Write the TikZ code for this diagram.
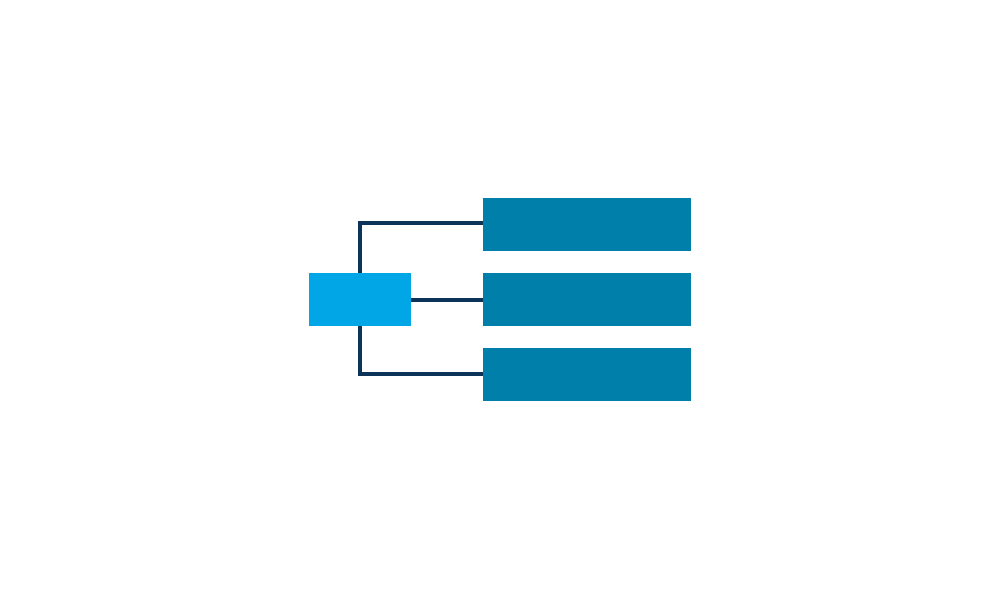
\documentclass[tikz,border=0pt]{standalone}
\usepackage{tikz}

\definecolor{hubblue}{RGB}{0,166,230}
\definecolor{itemblue}{RGB}{0,127,170}
\definecolor{linknavy}{RGB}{12,52,88}

\tikzset{
	hubbox/.style={fill=hubblue, draw=none, minimum width=1.02cm, minimum height=0.53cm, inner sep=0pt},
	itembox/.style={fill=itemblue, draw=none, minimum width=2.08cm, minimum height=0.53cm, inner sep=0pt},
	link/.style={draw=linknavy, line width=0.04cm}
}

\begin{document}
\begin{tikzpicture}
		%%%%% START %%%%%
		
		\useasboundingbox[fill=white] (0, 0) rectangle (10, 6);
		
		\coordinate (hubc) at (3.60, 3.005);
		\coordinate (topc) at (5.87, 3.755);
		\coordinate (midc) at (5.87, 3.005);
		\coordinate (botc) at (5.87, 2.255);
		
		% connectors first, boxes on top
		\draw[link] (hubc) |- ([yshift=0.015cm]topc);
		\draw[link] (hubc) |- ([yshift=0.005cm]botc);
		\draw[link] (hubc) -- (midc);
		
		\node[itembox] (top) at (topc) {};
		\node[itembox] (mid) at (midc) {};
		\node[itembox] (bot) at (botc) {};
		
		\node[hubbox] (hub) at (hubc) {};
		
		%%%%% END %%%%%
\end{tikzpicture}
\end{document}
